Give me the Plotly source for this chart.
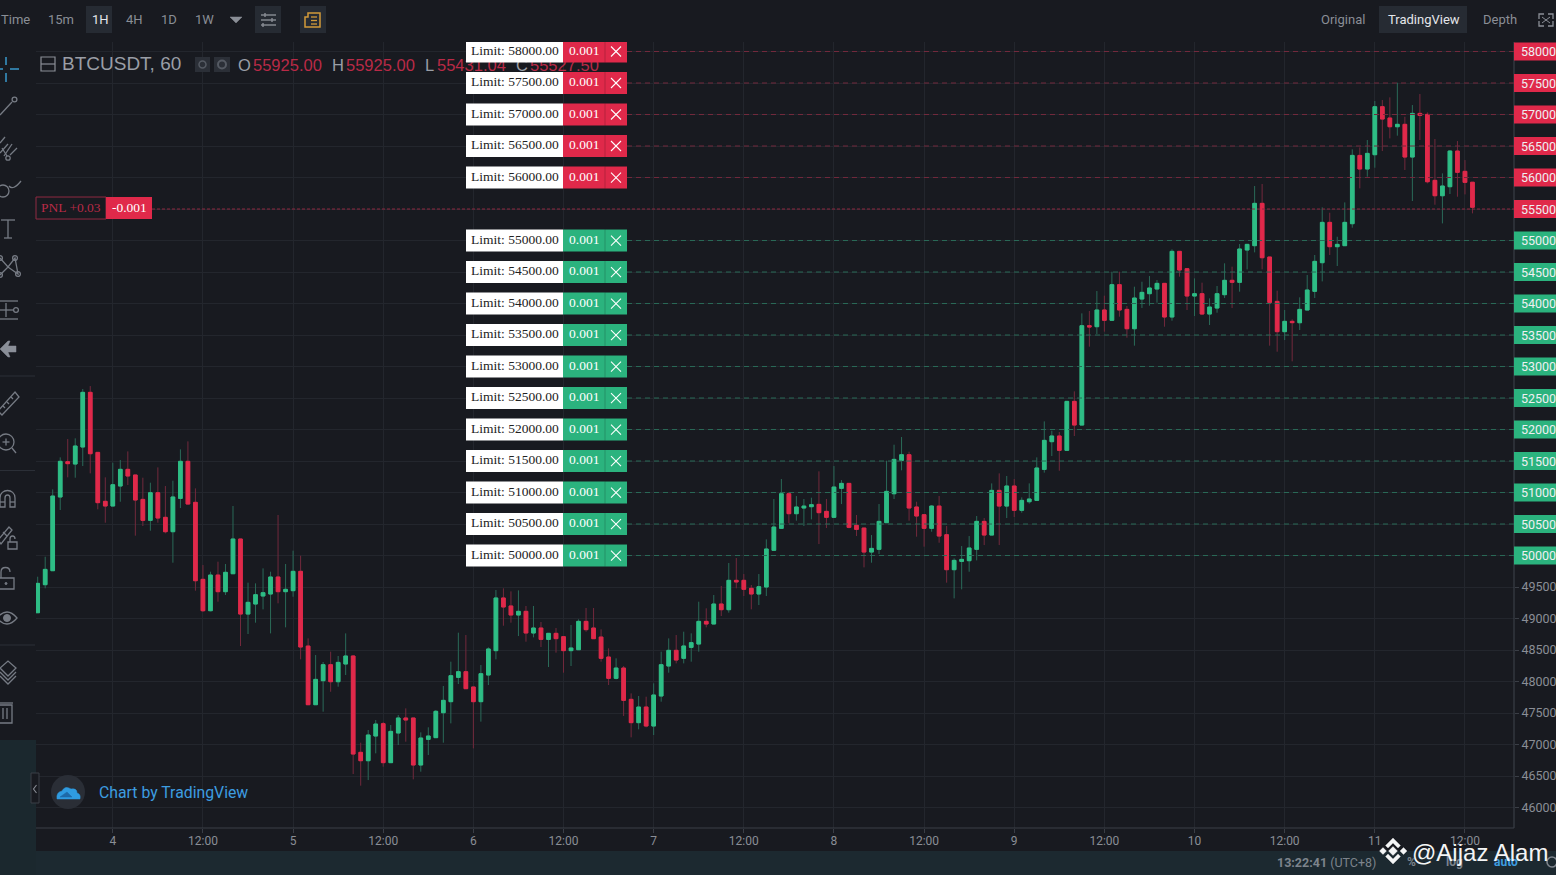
import pandas as pd
import plotly.graph_objects as go

# ---------- data ----------
open_ = [49092,49537,49759,50929,51489,51452,51722,52590,51637,50860,50786,51103,51368,51278,50891,50558,50997,50606,50378,50907,51495,50844,49622,49124,49690,49426,49711,50262,49071,49230,49357,49389,49659,49426,49442,49749,48563,47632,48013,48267,47997,48278,48405,46876,46743,47135,
47331,46712,47183,47421,47421,46675,47082,47109,47505,47680,48066,48156,47913,47680,48103,48490,49326,49199,49056,49114,48770,48849,48669,48765,48712,48490,48505,48955,48849,48706,48389,48050,48214,47717,47347,47595,47294,47770,48246,48495,48368,48542,48595,48955,48913,49230,49140,49606,49606,49479,49389,
49500,50082,50431,50981,50664,50754,50775,50812,50701,50606,51066,51145,50479,50436,50055,50098,50521,50981,51510,51600,50770,50648,50431,50785,50330,49775,49907,49918,50098,50542,50325,51034,50785,51103,50717,50854,50875,51367,51807,51897,
51669,52447,52071,53648,53632,53897,53733,54299,53907,53600,54071,54156,54230,54320,53786,54828,54553,54119,54156,53833,53928,54140,54368,54336,54849,54918,55590,54738,54034,53553,53717,
53695,53897,54193,54648,55288,54902,54918,55267,56351,56135,56362,57124,56944,56806,56844,56325,57018,57002,55955,55711,55854,56420,56098,55925]
high = [49664,49981,51050,51558,51849,51860,52643,52690,51637,51241,51473,51516,51653,51278,51235,51156,51399,51103,51188,51685,51812,51066,49849,49743,49902,49865,50786,50262,49569,49558,49796,49743,50643,49865,50077,49997,48685,48420,48310,48474,48405,48764,48421,47029,47230,47389,
47357,47310,47468,47574,47421,47193,47273,47548,47929,48315,48775,48738,47913,48262,48542,49453,49479,49431,49447,49199,49199,48945,48765,48849,48722,48897,48987,49167,49167,48828,48527,48368,48246,47812,47770,47759,47971,48474,48685,48738,48791,48765,49267,49162,49373,49516,49881,49960,49706,49532,49706,
50256,50897,51214,51008,50944,50897,50918,51336,50897,51420,51198,51145,50643,50436,50325,50817,51505,51759,51881,51648,50854,50648,50801,50944,50468,49955,50150,50309,50627,50595,51145,51304,51262,51214,50923,51145,51558,52129,51981,51960,
52447,52606,53844,53881,54198,54124,54505,54505,53960,54267,54346,54436,54373,54320,54860,54828,54553,54399,54331,54082,54278,54638,54585,54944,54939,55865,55897,54738,54204,53897,53749,
54098,54452,54770,55526,55441,55060,55605,56447,56478,56595,57214,57230,57272,57505,56965,57150,57325,57034,56611,56066,56436,56579,56277,55925]
low = [49092,49479,49759,50722,51241,51235,51421,51304,50733,50521,50786,50854,51119,50315,50468,50394,50521,50352,49886,50754,50817,49442,49103,49114,49267,49373,49711,48563,48754,48934,49145,48764,49241,48860,49346,48352,47632,47632,47521,47838,47918,48103,46532,46347,46436,46860,
46648,46712,46992,47045,46447,46569,46834,47109,47029,47336,47960,47886,46939,47363,47945,48352,48886,48934,48722,48632,48701,48548,48230,48458,48140,48246,48505,48791,48680,48315,47945,48034,47453,47114,47241,47273,47151,47680,48140,48288,48288,48315,48474,48860,48913,49040,49093,49479,49357,49146,49214,
49357,50082,50431,50510,50553,50468,50574,50182,50436,50606,50817,50431,50309,49812,49886,50024,50521,50897,51352,50553,50299,50140,50378,50203,49569,49320,49463,49743,49923,50166,50325,50166,50595,50611,50680,50823,50875,51315,51579,51346,
51669,51897,52071,53315,53516,53553,53733,53791,53458,53331,53929,53966,54013,53632,53727,54426,53897,53802,53823,53659,53854,54087,53928,54188,54542,54812,54542,53331,53235,53420,53082,
53579,53897,54087,54351,54770,54595,54918,55203,55828,56013,56156,56420,56621,56664,56119,55627,56595,55907,55568,55272,55738,55695,55732,55431.04]
close = [49558,49780,50944,51495,51458,51738,52590,51616,50839,50786,51124,51368,51262,50881,50558,50997,50595,50378,50929,51495,50817,49600,49124,49690,49426,49733,50262,49071,49257,49378,49410,49659,49426,49463,49749,48548,47632,48034,48267,47997,48304,48405,46849,46743,47151,47325,
46712,47209,47421,47389,46675,47103,47135,47527,47701,48093,48156,47886,47680,48124,48516,49326,49183,49056,49114,48770,48849,48669,48765,48680,48490,48532,48955,48823,48680,48368,48050,48214,47701,47347,47595,47294,47786,48267,48495,48341,48564,48617,48955,48913,49230,49140,49606,49580,49463,49389,49505,
50103,50452,50981,50664,50770,50785,50807,50680,50606,51087,51145,50447,50415,50055,50113,50542,51018,51526,51600,50754,50627,50431,50785,50309,49775,49923,49939,50119,50542,50325,51034,50785,51103,50717,50875,50897,51389,51828,51897,51669,
52447,52071,53648,53627,53897,53733,54299,53897,53600,54087,54177,54246,54320,53786,54828,54532,54119,54156,53833,53944,54156,54368,54336,54865,54939,55590,54727,54018,53553,53717,53696,
53907,54214,54669,55288,54902,54939,55288,56351,56135,56383,57124,56928,56806,56844,56325,57018,56986,55933,55711,55865,56420,56082,55923,55527.5]

first_bar = "2021-03-03 14:00"
x_tick_dates = ["2021-03-04 00:00","2021-03-04 12:00","2021-03-05 00:00","2021-03-05 12:00","2021-03-06 00:00","2021-03-06 12:00","2021-03-07 00:00","2021-03-07 12:00","2021-03-08 00:00","2021-03-08 12:00","2021-03-09 00:00","2021-03-09 12:00","2021-03-10 00:00","2021-03-10 12:00","2021-03-11 00:00","2021-03-11 12:00"]
x_tick_labels = ["4","12:00","5","12:00","6","12:00","7","12:00","8","12:00","9","12:00","10","12:00","11","12:00"]
y_ticks = [46000,46500,47000,47500,48000,48500,49000,49500,50000,50500,51000,51500,52000,52500,53000,53500,54000,54500,55000,55500,56000,56500,57000,57500,58000]
y_labels = ["46000","46500","47000","47500","48000","48500","49000","49500"]+[""]*17
sell_limits = [58000,57500,57000,56500,56000]
buy_limits = [55000,54500,54000,53500,53000,52500,52000,51500,51000,50500,50000]
position_price = 55500
order_qty = "0.001"
legend_ohlc = ["55925.00","55925.00","55431.04","55527.50"]

# ---------- styling ----------
BG="#181a20"; GREEN="#2ebd85"; RED="#e0294a"; GREEN_DIM="#2a6a58"; RED_DIM="#72293c"
ICON="#767b84"; MUTED="#8a8e96"; GRID="#23262d"; FONT="Roboto"
dates = pd.date_range(first_bar, periods=len(close), freq="h")
t0 = pd.Timestamp("2021-03-04 00:00")
to_time = lambda px: t0 + pd.Timedelta(hours=(px-112.8)/7.512)

fig = go.Figure()
# thin dim wicks underneath, bright bodies above
fig.add_candlestick(x=dates, open=open_, high=high, low=low, close=close, whiskerwidth=0,
    increasing=dict(line=dict(color=GREEN_DIM,width=1),fillcolor=GREEN_DIM),
    decreasing=dict(line=dict(color=RED_DIM,width=1),fillcolor=RED_DIM), showlegend=False)
fig.add_candlestick(x=dates, open=open_, close=close,
    high=[max(a,b) for a,b in zip(open_,close)], low=[min(a,b) for a,b in zip(open_,close)], whiskerwidth=0,
    increasing=dict(line=dict(color=GREEN,width=1),fillcolor=GREEN),
    decreasing=dict(line=dict(color=RED,width=1),fillcolor=RED), showlegend=False)

# legend text lives in a trace so the order tags can cover it
fig.add_scatter(x=[62,238,332,425,516], y=[65,67,67,67,67], xaxis="x2", yaxis="y2", mode="text", textposition="middle right",
    text=["BTCUSDT, 60","O","H","L","C"], textfont=dict(family="Liberation Sans",size=[19,16.5,16.5,16.5,16.5],color="#9a9ea6"), showlegend=False, hoverinfo="skip")
fig.add_scatter(x=[253,346,437,530], y=[67,67,67,67], xaxis="x2", yaxis="y2", mode="text", textposition="middle right",
    text=legend_ohlc, textfont=dict(family="Liberation Sans",size=16.5,color="#b92a47"), showlegend=False, hoverinfo="skip")

shapes=[]; notes=[]
def rect(x0,y0,x1,y1,fill,line=None,lw=0):
    shapes.append(dict(type="rect",xref="x2",yref="y2",x0=x0,x1=x1,y0=y0,y1=y1,fillcolor=fill,line=dict(color=line or fill,width=lw),layer="above"))
def seg(x0,y0,x1,y1,color=ICON,w=1.3,dash=None):
    shapes.append(dict(type="line",xref="x2",yref="y2",x0=x0,x1=x1,y0=y0,y1=y1,line=dict(color=color,width=w,dash=dash or "solid"),layer="above"))
def path(d,color=ICON,w=1.3,fill=None):
    shapes.append(dict(type="path",xref="x2",yref="y2",path=d,line=dict(color=color,width=w),fillcolor=fill or "rgba(0,0,0,0)",layer="above"))
def circ(cx,cy,r,color=ICON,w=1.3,fill=None):
    shapes.append(dict(type="circle",xref="x2",yref="y2",x0=cx-r,x1=cx+r,y0=cy-r,y1=cy+r,line=dict(color=color,width=w),fillcolor=fill or "rgba(0,0,0,0)",layer="above"))
def txt(x,y,s,size=13,color=MUTED,anchor="left",family=FONT,yref="y2",yshift=0):
    notes.append(dict(x=x,y=y,xref="x2",yref=yref,text=s,showarrow=False,xanchor=anchor,yanchor="middle",font=dict(family=family,size=size,color=color),yshift=yshift,borderpad=0))

# panels
rect(0,740,36,875,"#1b282e")
rect(36,851,1556,875,"#1c2930")
seg(1514,42,1514,828,"#3a3e46",1.2)
seg(36,828,1514,828,"#3a3e46",1.2)
for y in (376,470.5,645): seg(0,y,35,y,"#2b2f37",1)

# top bar
rect(86,6,112,33,"#262b33"); rect(255,6,281,33,"#262b33"); rect(300,6,326,33,"#262b33"); rect(1379,6,1467,33,"#262b33")
for x,s,c in [(0,"Time",MUTED),(47,"15m",MUTED),(91,"1H","#e4e6ea"),(125,"4H",MUTED),(160,"1D",MUTED),(194,"1W",MUTED),(1320,"Original",MUTED),(1387,"TradingView","#e4e6ea"),(1482,"Depth",MUTED)]:
    txt(x,19.5,s,13,c)
path("M230,17 L242,17 L236,23 Z",MUTED,0.5,MUTED)
for y,k in ((15,265),(20,272),(25,263)):
    seg(261,y,276,y,MUTED,1.4); seg(k,y-2,k,y+2,MUTED,1.4)
path("M308,13 L320,13 L320,27 L305,27 L305,17 L308,17 Z","#d29a3a",1.5)
for y in (17,20.5,24): seg(311,y,317,y,"#d29a3a",1.3)
path("M1539,19 L1539,14 L1544,14 M1548,14 L1553,14 L1553,19 M1553,21 L1553,26 L1548,26 M1544,26 L1539,26 L1539,21",MUTED,1.3)
seg(1542,17,1550,23,MUTED,1); seg(1550,17,1542,23,MUTED,1)

# legend small icons
rect(41,57,55,71,"rgba(0,0,0,0)","#8a8e96",1.2); seg(41,64,55,64,"#8a8e96",1.2)
rect(195,57,210,72,"#2b2f37"); rect(214,57,230,72,"#2b2f37")
circ(202.5,64.5,3.5,"#555a63",1.5); circ(222,64.5,4,"#555a63",2)

# left tool icons
for a in [(0,69,3,69),(10,69,19,69),(6,57,6,65),(6,73,6,82)]: seg(*a,color="#3ba3d9",w=1.4)
seg(0,115,12,102); circ(14.5,99.5,2.4)
seg(0,143,5,137); seg(0,153,8,144); seg(4,156,12,144); seg(10,155,17,148); seg(2,148,7,156); circ(8,158,2.2)
circ(3,191,6); path("M9,186 Q13,191 21,181")
seg(1,220,15,220); seg(8,220,8,238); seg(4,238,12,238)
path("M0,258 L8,267 L15,258 L18,274 L8,267 L0,275"); circ(15,258,2.4); circ(18,274,2.4); circ(0,258,2.4); circ(0,275,2.4)
seg(0,301,18,301); seg(0,319,18,319); seg(6,303,6,317); seg(0,310,13,310); circ(16,310,2.4)
path("M0,349 L8,341 L10,341 L8,346 L16,346 L16,352 L8,352 L10,357 L8,357 Z","#8a8f98",0.5,"#8a8f98")
path("M-2,411 L15,392 L19,397 L2,415 Z"); seg(3,406,5,408); seg(7,402,9,404); seg(11,397,13,399)
circ(6,442,8); seg(12,448,16,453); seg(2.5,442,9.5,442); seg(6,438.5,6,445.5)
path("M0,507 L0,498 C0,488 15,488 15,498 L15,507 L10,507 L10,498 C10,494 5,494 5,498 L5,507 Z"); seg(0,502,5,502); seg(10,502,15,502)
path("M-2,540 L9,527 L12,530 L1,544 Z"); seg(3,532,7,536); rect(8,542,17,549,"rgba(0,0,0,0)",ICON,1.3); path("M10,542 L10,539 C10,535 15,535 15,539")
rect(-2,578,14,589,"rgba(0,0,0,0)",ICON,1.3); path("M1,578 L1,572 C1,566 10,566 10,572"); circ(6,583.5,1,ICON,1,ICON)
path("M-3,618 Q7,606 17,618 Q7,630 -3,618 Z"); circ(7,618,3.5,ICON,1,ICON)
path("M0,668 L8,661 L16,668 L8,676 Z"); path("M0,672 L8,680 L16,672"); path("M0,676 L8,684 L16,676")
rect(-3,705,12,723,"rgba(0,0,0,0)",ICON,1.3); seg(-3,703,13,703); seg(3,708,3,719); seg(7,708,7,719); seg(-1,708,-1,719)

# order lines + tags
def order(price,color,dim):
    shapes.append(dict(type="line",xref="x2",yref="y",x0=627,x1=1514,y0=price,y1=price,line=dict(color=dim,width=1,dash="5px,4px"),layer="above"))
    for x0,x1,f in ((466,563,"#ffffff"),(563,605,color),(605,627,color)):
        shapes.append(dict(type="rect",xref="x2",yref="y",x0=x0,x1=x1,yanchor=price,ysizemode="pixel",y0=-11,y1=11,fillcolor=f,line=dict(color=color if f!="#ffffff" else "rgba(0,0,0,0)",width=0),layer="above"))
    shapes.append(dict(type="line",xref="x2",yref="y",x0=605,x1=605,yanchor=price,ysizemode="pixel",y0=-11,y1=11,line=dict(color="rgba(0,0,0,0.18)",width=1),layer="above"))
    for a,b in ((-5,5),(5,-5)):
        shapes.append(dict(type="line",xref="x2",yref="y",x0=611,x1=621,yanchor=price,ysizemode="pixel",y0=a,y1=b,line=dict(color="#ffffff",width=1.1),layer="above"))
    txt(514.5,price,f"Limit: {price}.00",13.5,"#222222","center","Liberation Serif","y",1.5)
    txt(584,price,order_qty,13.5,"#ffffff","center","Liberation Serif","y",1.5)
    shapes.append(dict(type="rect",xref="x2",yref="y",x0=1514,x1=1556,yanchor=price,ysizemode="pixel",y0=-9,y1=9,fillcolor=color,line=dict(width=0),layer="above"))
    txt(1538,price,str(price),12.5,"#eef0f2","center",FONT,"y")
for p in sell_limits: order(p,RED,RED_DIM)
for p in buy_limits: order(p,"#2bb37e",GREEN_DIM)

# position line
shapes.append(dict(type="line",xref="x2",yref="y",x0=152,x1=1514,y0=position_price,y1=position_price,line=dict(color="#8f2a42",width=1,dash="3px,2px"),layer="above"))
shapes.append(dict(type="rect",xref="x2",yref="y",x0=36,x1=106,yanchor=position_price,ysizemode="pixel",y0=-10,y1=12,fillcolor=BG,line=dict(color="#8f2a42",width=1),layer="above"))
shapes.append(dict(type="rect",xref="x2",yref="y",x0=106,x1=152,yanchor=position_price,ysizemode="pixel",y0=-10,y1=12,fillcolor=RED,line=dict(color=RED,width=0),layer="above"))
txt(71,position_price,"PNL +0.03",13.5,"#b92a47","center","Liberation Serif","y",2)
txt(129,position_price,"-0.001",13.5,"#ffffff","center","Liberation Serif","y",2)
shapes.append(dict(type="rect",xref="x2",yref="y",x0=1514,x1=1556,yanchor=position_price,ysizemode="pixel",y0=-9,y1=9,fillcolor=RED,line=dict(width=0),layer="above"))
txt(1538,position_price,str(position_price),12.5,"#eef0f2","center",FONT,"y")

# branding
rect(31,773,39,803,BG,"#3a3e46",1); path("M36.5,785 L33.5,789 L36.5,793","#8a8e96",1.1)
circ(68,792,17,"#2a2e36",0,"#2a2e36")
path("M57,799 Q56,792 62,791 Q65,785 71,789 Q77,788 77,793 Q81,794 80,799 Z","#2f9be0",0.5,"#2f9be0")
path("M60,797 L67,792 L72,797 Z","#1e6aa8",0.5,"#1e6aa8")
txt(97.5,792,"Chart by TradingView",15.8,"#3d9de0")

# status bar
txt(1276,862,"<b>13:22:41</b> (UTC+8)",12.5,"#7d848c")
txt(1406,862,"<b>%</b>",12,"#7d848c"); txt(1445,862,"<b>log</b>",12,"#7d848c"); txt(1493,862,"<b>auto</b>",12,"#3d9de0")
circ(1552,862,5,"#7d848c",1.6)

# watermark
W="#f4f5f6"
path("M1393,846.5 L1397.5,851 L1393,855.5 L1388.5,851 Z",W,0.3,W)
path("M1383,847.5 L1386.5,851 L1383,854.5 L1379.5,851 Z",W,0.3,W)
path("M1403.5,847.5 L1407,851 L1403.5,854.5 L1400,851 Z",W,0.3,W)
path("M1393,838 L1400.5,845.5 L1398,848 L1393,843 L1388,848 L1385.5,845.5 Z",W,0.3,W)
path("M1393,864 L1400.5,856.5 L1398,854 L1393,859 L1388,854 L1385.5,856.5 Z",W,0.3,W)
txt(1411,852,"@Aijaz Alam",24,W,"left","Liberation Sans")

fig.update_layout(
    width=1556,height=875,margin=dict(l=0,r=0,t=0,b=0,pad=0,autoexpand=False),paper_bgcolor=BG,plot_bgcolor="rgba(0,0,0,0)",
    showlegend=False,boxmode="overlay",shapes=shapes,annotations=notes,
    xaxis=dict(domain=[36/1556,1514/1556],type="date",range=[to_time(36),to_time(1514)],rangeslider=dict(visible=False),
        tickmode="array",tickvals=x_tick_dates,ticktext=x_tick_labels,showgrid=True,gridcolor=GRID,gridwidth=1,zeroline=False,
        ticks="outside",ticklen=4,tickcolor="#3a3e46",ticklabelstandoff=-2,tickfont=dict(family=FONT,size=12,color=MUTED),anchor="y"),
    yaxis=dict(domain=[(875-828)/875,(875-42)/875],side="right",range=[45675,58151],tickmode="array",tickvals=y_ticks,ticktext=y_labels,
        showgrid=True,gridcolor=GRID,gridwidth=1,zeroline=False,ticks="outside",ticklen=4,tickcolor="#3a3e46",
        tickfont=dict(family=FONT,size=12.5,color=MUTED),anchor="x"),
    xaxis2=dict(domain=[0,1],range=[0,1556],visible=False,anchor="y2",fixedrange=True),
    yaxis2=dict(domain=[0,1],range=[875,0],visible=False,anchor="x2",fixedrange=True),
)
fig.write_html("out.html",config=dict(displayModeBar=False),post_script="document.body.style.margin='0';document.body.style.overflow='hidden';document.body.style.background='#181a20';")
